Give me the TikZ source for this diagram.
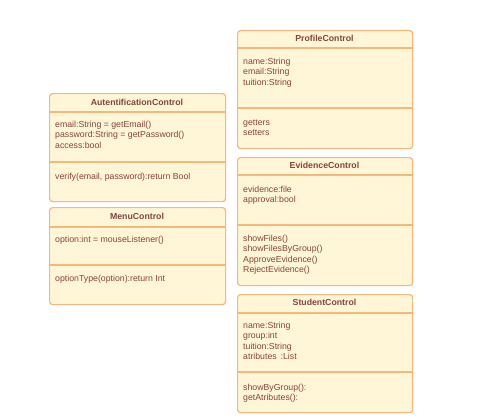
\documentclass[tikz,border=0pt]{standalone}
\usepackage{fontspec}
\setmainfont{Liberation Sans}
\definecolor{fillc}{HTML}{FFF6D8}
\definecolor{linec}{HTML}{F5B77A}
\definecolor{txtc}{HTML}{86443A}
\tikzset{
  umlbox/.style={draw=linec, fill=fillc, line width=1.2pt, rounded corners=3pt, anchor=north west, inner sep=0pt},
  sepline/.style={draw=linec, line width=1.1pt},
  title/.style={font=\bfseries\fontsize{8.75}{10.5}\selectfont, text=txtc, inner sep=0pt},
  body/.style={font=\fontsize{8.75}{10.5}\selectfont, text=txtc, inner sep=0pt, align=left, anchor=north west},
}
\begin{document}
\begin{tikzpicture}[x=1pt,y=-1pt]
\useasboundingbox (0,0) rectangle (482,420);
\fill[white] (0,0) rectangle (482,420);

% AutentificationControl
\node[umlbox, minimum width=176pt, minimum height=108pt] (auth) at (49,93) {};
\draw[sepline] (auth.west |- 0,112) -- (auth.east |- 0,112);
\draw[sepline] (auth.west |- 0,162) -- (auth.east |- 0,162);
\node[title] (authT) at (137,102.5) {AutentificationControl};
\node[body] (authA) at (55,120.5) {email:String = getEmail()\\password:String = getPassword()\\access:bool};
\node[body] (authM) at (55,172.5) {verify(email, password):return Bool};

% MenuControl
\node[umlbox, minimum width=176pt, minimum height=97pt] (menu) at (49,207) {};
\draw[sepline] (menu.west |- 0,227) -- (menu.east |- 0,227);
\draw[sepline] (menu.west |- 0,265) -- (menu.east |- 0,265);
\node[title] (menuT) at (137,216.5) {MenuControl};
\node[body] (menuA) at (55,235.5) {option:int = mouseListener()};
\node[body] (menuM) at (55,274.5) {optionType(option):return Int};

% ProfileControl
\node[umlbox, minimum width=175pt, minimum height=118pt] (prof) at (237,30) {};
\draw[sepline] (prof.west |- 0,48) -- (prof.east |- 0,48);
\draw[sepline] (prof.west |- 0,108) -- (prof.east |- 0,108);
\node[title] (profT) at (324.5,38.5) {ProfileControl};
\node[body] (profA) at (243,57.5) {name:String\\email:String\\tuition:String};
\node[body] (profM) at (243,119.5) {getters\\setters};

% EvidenceControl
\node[umlbox, minimum width=175pt, minimum height=128pt] (evid) at (237,157) {};
\draw[sepline] (evid.west |- 0,175) -- (evid.east |- 0,175);
\draw[sepline] (evid.west |- 0,225) -- (evid.east |- 0,225);
\node[title] (evidT) at (324.5,165.5) {EvidenceControl};
\node[body] (evidA) at (243,185.5) {evidence:file\\approval:bool};
\node[body] (evidM) at (243,234.5) {showFiles()\\showFilesByGroup()\\ApproveEvidence()\\RejectEvidence()};

% StudentControl
\node[umlbox, minimum width=175pt, minimum height=118pt] (stud) at (237,294) {};
\draw[sepline] (stud.west |- 0,313) -- (stud.east |- 0,313);
\draw[sepline] (stud.west |- 0,372) -- (stud.east |- 0,372);
\node[title] (studT) at (324.5,302.5) {StudentControl};
\node[body] (studA) at (243,321.5) {name:String\\group:int\\tuition:String\\atributes\ \,:List};
\node[body] (studM) at (243,383.5) {showByGroup():\\getAtributes():};
\end{tikzpicture}
\end{document}
